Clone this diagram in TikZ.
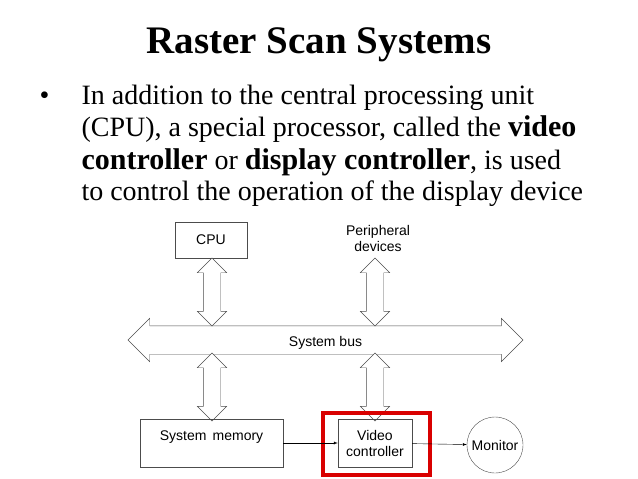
\documentclass[tikz,border=0pt]{standalone}
\usepackage{fontspec}
\setmainfont{Liberation Serif}
\setsansfont{Liberation Sans}
\usetikzlibrary{shapes.arrows,arrows}
\tikzstyle{box} = [rectangle, draw=black!70, font=\sffamily\fontsize{14}{16}\selectfont, inner sep=0pt]
\tikzstyle{fat} = [double arrow, draw=black!70, fill=white, double arrow head extend=6pt, minimum width=29pt, minimum height=68pt, inner sep=8.5pt, shape border rotate=90]
\tikzstyle{line} = [anchor=base west, font=\fontsize{28}{32}\selectfont]
\tikzstyle{arrow} = [->,>=latex, black]

\begin{document}
\begin{tikzpicture}[x=1pt,y=-1pt]
	\useasboundingbox (0,0) rectangle (638,479);

	\node (title) at (319,45) {\fontsize{39}{42}\selectfont\bfseries Raster Scan Systems};
	\node (dot) [line] at (36,104) {\textbullet};
	\node (l1) [line] at (78,104) {In addition to the central processing unit};
	\node (l2) [line] at (78,136) {(CPU), a special processor, called the \textbf{\fontsize{30}{32}\selectfont video}};
	\node (l3) [line] at (78,169) {\textbf{\fontsize{30}{32}\selectfont controller} or \textbf{\fontsize{30}{32}\selectfont display controller}, is used};
	\node (l4) [line] at (78,200) {to control the operation of the display device};

	\node (cpu) [box, minimum width=72pt, minimum height=36pt] at (211,240) {CPU};
	\node (periph) [box, draw=none, align=center] at (378,238) {Peripheral\\devices};
	\node (bus) [fat, shape border rotate=0, minimum width=43pt, minimum height=395pt, inner sep=0pt, text height=20pt, text depth=8pt, double arrow head extend=7.5pt, font=\sffamily\fontsize{14}{16}\selectfont] at (325.5,340) {System bus};
	\node (a1) [fat] at (212,292) {};
	\node (a2) [fat] at (375,292) {};
	\node (a3) [fat] at (212,387) {};
	\node (a4) [fat] at (375,387) {};

	\node (mem) [box, minimum width=143pt, minimum height=48pt, text depth=14pt, align=left] at (211.5,443) {System\, memory};
	\node (vc) [box, minimum width=74pt, minimum height=48pt, align=center] at (375,443) {Video\\controller};
	\draw [red!85!black, line width=4pt] (323,413) rectangle (430,475);
	\node (mon) [box, circle, minimum size=56pt] at (495,445) {Monitor};

	\draw [arrow] (mem) -- (vc);
	\draw [arrow] (vc) -- (mon);

\end{tikzpicture}
\end{document}
